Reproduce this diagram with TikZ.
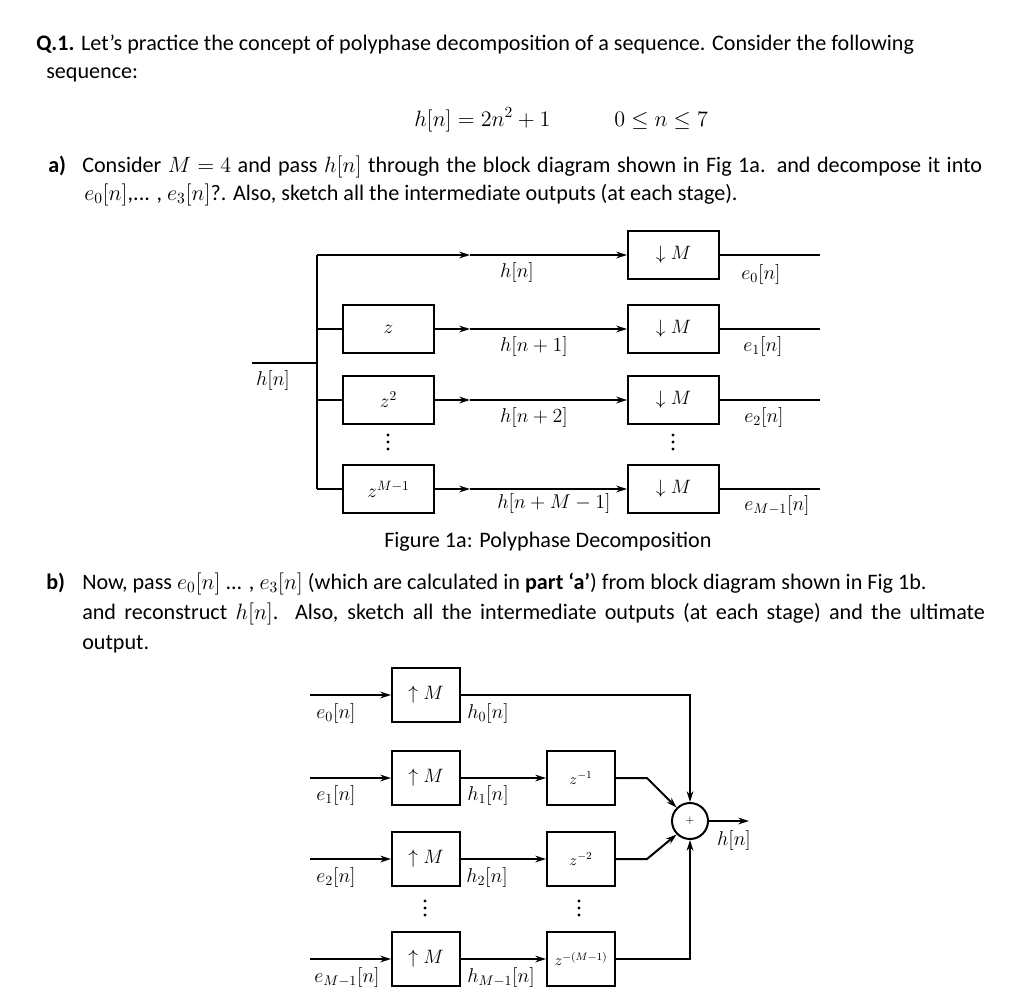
\documentclass[tikz,border=0pt]{standalone}
\usepackage{fix-cm}
\usepackage{fontspec}
\setmainfont{Carlito}
\usetikzlibrary{arrows.meta}
\begin{document}
\begin{tikzpicture}[x=0.75pt,y=-0.75pt,
  txt/.style={anchor=base west,inner sep=0pt,font=\fontsize{16.6}{20}\selectfont},
  ln/.style={line width=1.5pt},
  arr/.style={-{Stealth[length=8pt,width=5pt]}},
  dbox/.style={draw,line width=1.5pt,minimum width=68.25pt,minimum height=36pt,inner sep=0pt,font=\fontsize{14.5}{16}\selectfont},
  ubox/.style={draw,line width=1.5pt,minimum width=51pt,minimum height=41pt,inner sep=0pt,font=\fontsize{14.5}{16}\selectfont},
  lbl/.style={inner sep=0pt,font=\fontsize{15}{17}\selectfont},
  dotc/.style={circle,fill,inner sep=0pt,minimum size=2.4pt}]
\useasboundingbox[fill=white] (0,0) rectangle (1024,1007);

% ---------- text ----------
\node[txt] (t1) at (36,50) {\textbf{Q.1.} Let’s practice the concept of polyphase decomposition of a sequence. Consider the following};
\node[txt] (t2) at (46,78) {sequence:};
\node[txt] (eq1) at (414,126) {$h[n]=2n^2+1$};
\node[txt] (eq2) at (614,126) {$0\le n\le 7$};
\node[txt] (a0) at (48,172) {\textbf{a)}};
\node[txt] (a1) at (82,172) {\makebox[675pt][s]{Consider \mbox{$M=4$} and pass \mbox{$h[n]$} through the block diagram shown in Fig 1a. and decompose it into}};
\node[txt] (a2) at (84,200) {$e_0[n]$,... , $e_3[n]$?. Also, sketch all the intermediate outputs (at each stage).};
\node[txt] (cap) at (384,547) {Figure 1a: Polyphase Decomposition};
\node[txt] (b0) at (46,589) {\textbf{b)}};
\node[txt] (b1) at (82,589) {Now, pass $e_0[n]$ ... , $e_3[n]$ (which are calculated in \textbf{part ‘a’}) from block diagram shown in Fig 1b.};
\node[txt] (b2) at (82,619) {\makebox[677pt][s]{and reconstruct \mbox{$h[n]$}. Also, sketch all the intermediate outputs (at each stage) and the ultimate}};
\node[txt] (b3) at (82,649) {output.};

% ---------- Figure 1a ----------
\coordinate (in) at (252,363);
\coordinate (bus) at (317,363);
\coordinate (bt) at (317,255);
\coordinate (bb) at (317,489);
\node[dbox] (d1) at (388.5,329) {$z$};
\node[dbox] (d2) at (388.5,400) {$z^{2}$};
\node[dbox] (d3) at (388.5,489) {$z^{M-1}$};
\node[dbox] (m0) at (673.5,255) {$\downarrow M$};
\node[dbox] (m1) at (673.5,329) {$\downarrow M$};
\node[dbox] (m2) at (673.5,400) {$\downarrow M$};
\node[dbox] (m3) at (673.5,489) {$\downarrow M$};
\coordinate (c0) at (470,255);
\coordinate (c1) at (470,329);
\coordinate (c2) at (470,400);
\coordinate (c3) at (470,489);
\coordinate (o0) at (820,255);
\coordinate (o1) at (820,329);
\coordinate (o2) at (820,400);
\coordinate (o3) at (820,489);
\draw[ln] (in) -- (bus);
\draw[ln] (bt) -- (bb);
\draw[ln] (bt |- d1) -- (d1.west);
\draw[ln] (bt |- d2) -- (d2.west);
\draw[ln] (bb) -- (d3.west);
\draw[ln,arr] (bt) -- (c0);
\draw[ln,arr] (c0) -- (m0.west);
\draw[ln,arr] (d1.east) -- (c1);
\draw[ln,arr] (c1) -- (m1.west);
\draw[ln,arr] (d2.east) -- (c2);
\draw[ln,arr] (c2) -- (m2.west);
\draw[ln,arr] (d3.east) -- (c3);
\draw[ln,arr] (c3) -- (m3.west);
\draw[ln] (m0.east) -- (o0);
\draw[ln] (m1.east) -- (o1);
\draw[ln] (m2.east) -- (o2);
\draw[ln] (m3.east) -- (o3);
\foreach \yy [count=\i] in {435,442,449} {
  \node[dotc] (va\i) at (388,\yy) {};
  \node[dotc] (vb\i) at (673,\yy) {};
}
\node[lbl] (lin) at (273,380) {$h[n]$};
\node[lbl] (l0) at (517,272) {$h[n]$};
\node[lbl] (l1) at (534,346) {$h[n+1]$};
\node[lbl] (l2) at (534,417) {$h[n+2]$};
\node[lbl] (l3) at (554,503) {$h[n+M-1]$};
\node[lbl] (r0) at (761,274) {$e_0[n]$};
\node[lbl] (r1) at (763,346) {$e_1[n]$};
\node[lbl] (r2) at (764,417) {$e_2[n]$};
\node[lbl] (r3) at (777,505) {$e_{M-1}[n]$};

% ---------- Figure 1b ----------
\node[ubox] (u0) at (426,695) {$\uparrow M$};
\node[ubox] (u1) at (426,778) {$\uparrow M$};
\node[ubox] (u2) at (426,859) {$\uparrow M$};
\node[ubox] (u3) at (426,959) {$\uparrow M$};
\node[ubox,font=\fontsize{11.5}{13}\selectfont] (z1) at (581,778) {$z^{-1}$};
\node[ubox,font=\fontsize{11.5}{13}\selectfont] (z2) at (581,859) {$z^{-2}$};
\node[ubox,font=\fontsize{11.5}{13}\selectfont] (z3) at (581,959) {$z^{-(M-1)}$};
\node[draw,circle,line width=1.5pt,minimum size=27pt,inner sep=0pt,font=\fontsize{8}{9}\selectfont] (add) at (690,821) {$+$};
\coordinate (i0) at (310,695);
\coordinate (i1) at (310,778);
\coordinate (i2) at (310,859);
\coordinate (i3) at (310,959);
\coordinate (k1) at (647,778);
\coordinate (k2) at (647,859);
\coordinate (out) at (749,821);
\draw[ln,arr] (i0) -- (u0.west);
\draw[ln,arr] (i1) -- (u1.west);
\draw[ln,arr] (i2) -- (u2.west);
\draw[ln,arr] (i3) -- (u3.west);
\draw[ln,arr] (u0.east) -| (add.north);
\draw[ln,arr] (u1.east) -- (z1.west);
\draw[ln,arr] (u2.east) -- (z2.west);
\draw[ln,arr] (u3.east) -- (z3.west);
\draw[ln,arr] (z1.east) -- (k1) -- (add.135);
\draw[ln,arr] (z2.east) -- (k2) -- (add.225);
\draw[ln,arr] (z3.east) -| (add.south);
\draw[ln,arr] (add.east) -- (out);
\foreach \yy [count=\i] in {901,908,915} {
  \node[dotc] (vc\i) at (425,\yy) {};
  \node[dotc] (vd\i) at (579,\yy) {};
}
\node[lbl] (e0) at (336,713) {$e_0[n]$};
\node[lbl] (e1) at (336,795) {$e_1[n]$};
\node[lbl] (e2) at (336,877) {$e_2[n]$};
\node[lbl] (e3) at (347,977) {$e_{M-1}[n]$};
\node[lbl] (h0) at (488,713) {$h_0[n]$};
\node[lbl] (h1) at (488,795) {$h_1[n]$};
\node[lbl] (h2) at (487,877) {$h_2[n]$};
\node[lbl] (h3) at (501,977) {$h_{M-1}[n]$};
\node[lbl] (hout) at (734,840) {$h[n]$};
\end{tikzpicture}
\end{document}
